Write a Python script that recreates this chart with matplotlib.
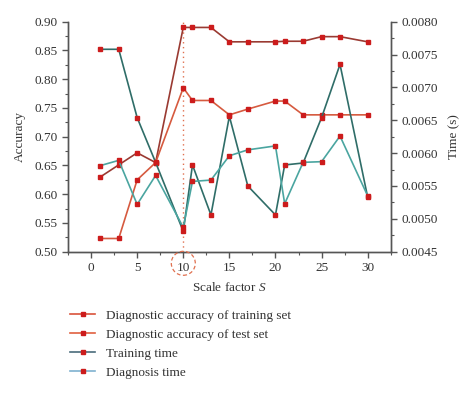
import matplotlib
matplotlib.use("Agg")
import matplotlib.pyplot as plt
from matplotlib.lines import Line2D
from matplotlib.patches import Ellipse
from matplotlib.ticker import MultipleLocator

plt.rcParams['font.family'] = ['Liberation Serif', 'DejaVu Serif']
plt.rcParams['mathtext.fontset'] = 'custom'
plt.rcParams['mathtext.it'] = 'Liberation Serif:italic'
plt.rcParams['mathtext.rm'] = 'Liberation Serif'

scale = [1, 3, 5, 7, 10, 11, 13, 15, 17, 20, 21, 23, 25, 27, 30]
train_acc = [0.630, 0.651, 0.672, 0.655, 0.890, 0.890, 0.890, 0.865, 0.865,
             0.865, 0.866, 0.866, 0.874, 0.874, 0.865]
test_acc = [0.523, 0.523, 0.625, 0.655, 0.785, 0.763, 0.763, 0.738, 0.748,
            0.762, 0.762, 0.738, 0.738, 0.738, 0.738]
train_time = [0.00758, 0.00758, 0.00654, 0.00586, 0.00481, 0.00582, 0.00506,
              0.00656, 0.00550, 0.00506, 0.00582, 0.00585, 0.00654, 0.00735,
              0.00533]
diag_time = [0.00581, 0.00589, 0.00522, 0.00566, 0.00487, 0.00557, 0.00559,
             0.00596, 0.00605, 0.00611, 0.00523, 0.00586, 0.00587, 0.00626,
             0.00535]
legend_labels = ["Diagnostic accuracy of training set",
                 "Diagnostic accuracy of test set",
                 "Training time", "Diagnosis time"]

c_train_acc = "#9a3a32"
c_test_acc = "#d65a3f"
c_train_time = "#2f6d68"
c_diag_time = "#4aa5a0"
c_marker = "#cc1c1c"
txt = "#333333"

fig = plt.figure(figsize=(4.74, 3.93), dpi=100)
ax = fig.add_axes([0.1435, 0.3595, 0.6808, 0.5853])
ax2 = ax.twinx()

mk = dict(marker='s', markersize=3.2, markerfacecolor=c_marker,
          markeredgecolor=c_marker, linewidth=1.2)
ax.plot(scale, train_acc, color=c_train_acc, zorder=3, **mk)
ax.plot(scale, test_acc, color=c_test_acc, zorder=3, **mk)
ax2.plot(scale, train_time, color=c_train_time, zorder=3, **mk)
ax2.plot(scale, diag_time, color=c_diag_time, zorder=3, **mk)

ax.axvline(10, color="#e0704f", linestyle=(0, (1, 2.5)), linewidth=1.0, zorder=1)

ax.set_xlim(-2.5, 32.5)
ax.set_ylim(0.50, 0.90)
ax2.set_ylim(0.0045, 0.0080)

ax.xaxis.set_major_locator(MultipleLocator(5))
ax.xaxis.set_minor_locator(MultipleLocator(2.5))
ax.yaxis.set_major_locator(MultipleLocator(0.05))
ax.yaxis.set_minor_locator(MultipleLocator(0.025))
ax2.yaxis.set_major_locator(MultipleLocator(0.0005))
ax2.yaxis.set_minor_locator(MultipleLocator(0.00025))
ax.yaxis.set_major_formatter(matplotlib.ticker.FormatStrFormatter('%.2f'))
ax2.yaxis.set_major_formatter(matplotlib.ticker.FormatStrFormatter('%.4f'))

for a in (ax, ax2):
    a.spines['top'].set_visible(False)
    for s in a.spines.values():
        s.set_color("#555555")
        s.set_linewidth(1.0)
    a.tick_params(which='major', direction='out', length=4, width=1.0,
                  colors="#555555", labelcolor=txt, labelsize=9.5)
    a.tick_params(which='minor', direction='out', length=2.5, width=0.8,
                  colors="#555555")

ax.set_ylabel("Accuracy", fontsize=9.5, color=txt, labelpad=6)
ax2.set_ylabel("Time (s)", fontsize=9.5, color=txt, labelpad=8)
ax.set_xlabel("Scale factor $\\mathit{S}$", fontsize=9.5, color=txt, labelpad=5)

circ = Ellipse((183.3 / 474, 1 - 263.3 / 393), 24 / 474, 24 / 393,
               transform=fig.transFigure, fill=False, edgecolor="#e0704f",
               linestyle=(0, (3, 2)), linewidth=0.9)
fig.add_artist(circ)

handle_cols = ["#d9533b", "#e0603f", "#4a6c7c", "#7fb1cf"]
handles = [Line2D([0], [0], color=c, linewidth=1.2, marker='s', markersize=2.8,
                  markerfacecolor=c_marker, markeredgecolor=c_marker)
           for c in handle_cols]
fig.legend(handles, legend_labels, loc='upper left',
           bbox_to_anchor=(0.137, 0.225), frameon=False, fontsize=9.5,
           handlelength=1.9, handletextpad=0.8, labelspacing=0.5,
           labelcolor=txt, borderaxespad=0)

fig.savefig("out.png", dpi=100)
